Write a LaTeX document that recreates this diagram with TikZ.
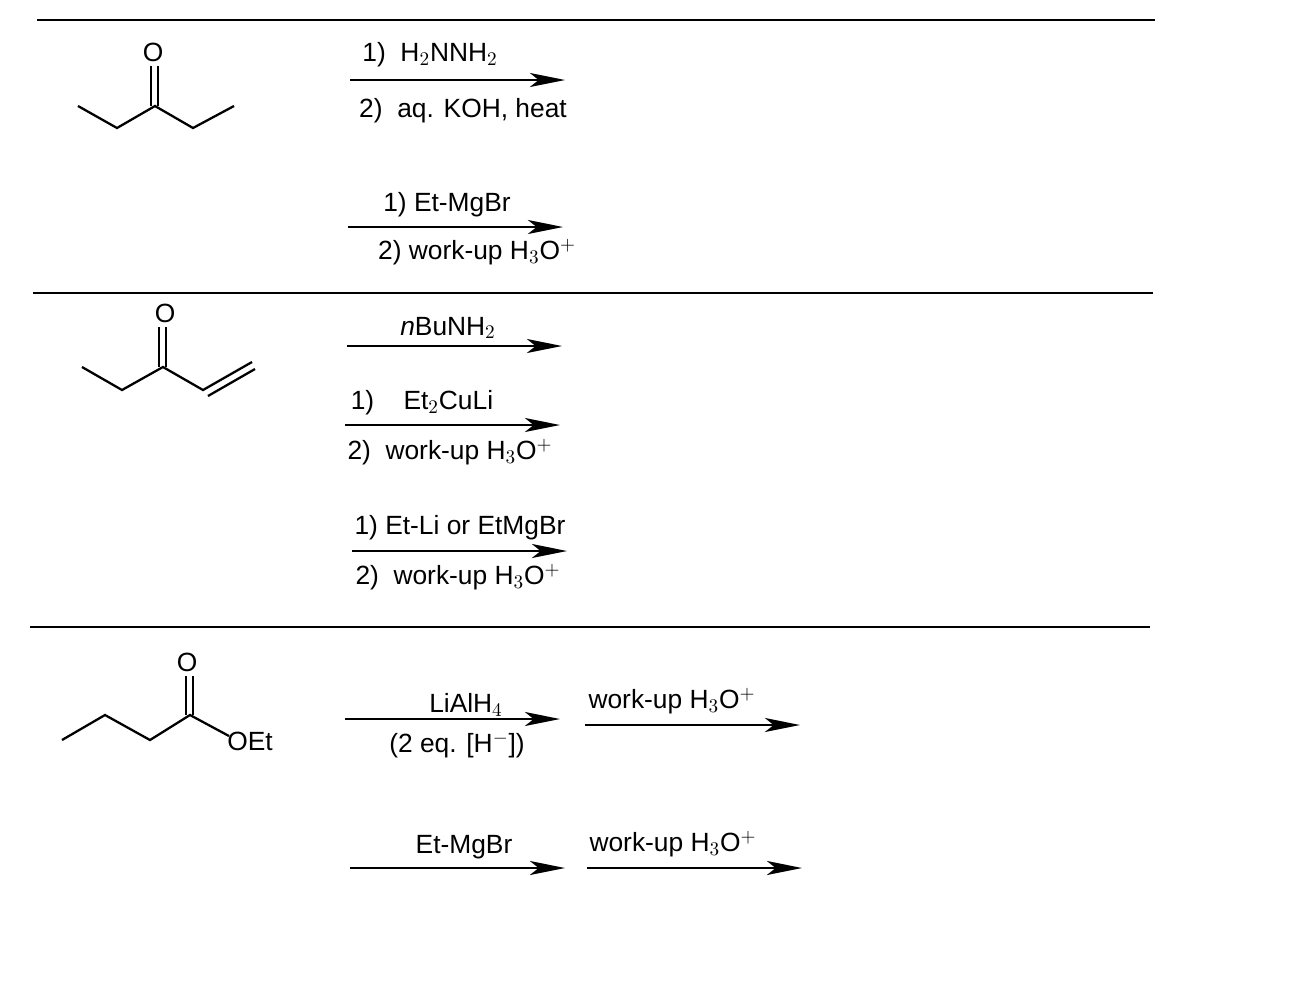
\documentclass[tikz,border=0pt]{standalone}
\usepackage{fontspec}
\setmainfont{Liberation Sans}
\usetikzlibrary{arrows.meta}
\tikzset{
  rxn/.style={-{Stealth[length=20pt,width=8pt,inset=5pt]},line width=1.2pt},
  bond/.style={line width=1.3pt},
  lbl/.style={font=\fontsize{15}{17}\selectfont,inner sep=0pt},
  rule/.style={line width=1.1pt}}
\begin{document}
\begin{tikzpicture}[x={(0.02cm,0)},y={(0,-0.02cm)}]
  \useasboundingbox (0,0) rectangle (1294,984);
  % separators
  \draw[rule] (37,20) -- (1155,20);
  \draw[rule] (33,293) -- (1153,293);
  \draw[rule] (30,627) -- (1150,627);
  % 3-pentanone
  \node[lbl] (o1) at (153,52) {O};
  \draw[bond] (78,106) -- (117,128) -- (155,106) -- (193,128) -- (234,106);
  \draw[bond] (151,106) -- (151,66);
  \draw[bond] (158,106) -- (158,66);
  % ethyl vinyl ketone
  \node[lbl] (o2) at (165,313) {O};
  \draw[bond] (82,367) -- (122,390) -- (163,367) -- (203,390) -- (252,362);
  \draw[bond] (159,367) -- (159,327);
  \draw[bond] (166,367) -- (166,327);
  \draw[bond] (208,396) -- (255,369);
  % ethyl butanoate
  \node[lbl] (o3) at (187,662) {O};
  \node[lbl] (oet) at (250,741) {OEt};
  \draw[bond] (62,740) -- (105,715) -- (150,740) -- (190,715) -- (229,736);
  \draw[bond] (186,715) -- (186,676);
  \draw[bond] (193,715) -- (193,676);
  % reaction arrows
  \coordinate (a1s) at (350,80);  \coordinate (a1e) at (565,80);
  \coordinate (a2s) at (348,227); \coordinate (a2e) at (563,227);
  \coordinate (a3s) at (347,346); \coordinate (a3e) at (562,346);
  \coordinate (a4s) at (345,425); \coordinate (a4e) at (560,425);
  \coordinate (a5s) at (352,551); \coordinate (a5e) at (567,551);
  \coordinate (a6s) at (345,719); \coordinate (a6e) at (560,719);
  \coordinate (a7s) at (585,725); \coordinate (a7e) at (800,725);
  \coordinate (a8s) at (350,868); \coordinate (a8e) at (565,868);
  \coordinate (a9s) at (587,868); \coordinate (a9e) at (802,868);
  \foreach \i in {1,...,9}
    \draw[rxn] (a\i s) -- (a\i e);
  % conditions
  \node[lbl] (c1a) at (430,55) {1)\ \ H$_2$NNH$_2$};
  \node[lbl] (c1b) at (463,111) {2)\ \ aq. KOH, heat};
  \node[lbl] (c2a) at (447,205) {1) Et-MgBr};
  \node[lbl] (c2b) at (477,252) {2) work-up H$_3$O$^+$};
  \node[lbl] (c3a) at (448,328) {\textit{n}BuNH$_2$};
  \node[lbl] (c4a) at (422,403) {1)\ \ \ \ Et$_2$CuLi};
  \node[lbl] (c4b) at (450,452) {2)\ \ work-up H$_3$O$^+$};
  \node[lbl] (c5a) at (460,528) {1) Et-Li or EtMgBr};
  \node[lbl] (c5b) at (458,577) {2)\ \ work-up H$_3$O$^+$};
  \node[lbl] (c6a) at (466,705) {LiAlH$_4$};
  \node[lbl] (c6b) at (457,745) {(2 eq. [H$^-$])};
  \node[lbl] (c7a) at (672,701) {work-up H$_3$O$^+$};
  \node[lbl] (c8a) at (464,847) {Et-MgBr};
  \node[lbl] (c9a) at (673,844) {work-up H$_3$O$^+$};
\end{tikzpicture}
\end{document}
